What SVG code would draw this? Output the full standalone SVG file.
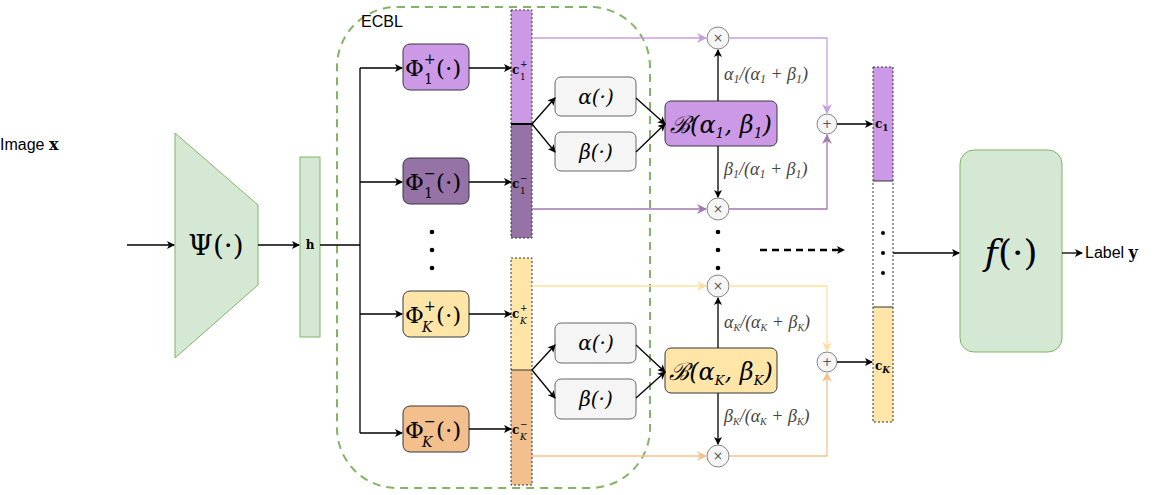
<svg xmlns="http://www.w3.org/2000/svg" width="1157" height="495" viewBox="0 0 1157 495">
<defs>
<marker id="ab" markerWidth="8" markerHeight="8" refX="7" refY="4" orient="auto" markerUnits="userSpaceOnUse"><path d="M0,0 L8,4 L0,8 L2,4 Z" fill="#000"/></marker>
<marker id="ap1" markerWidth="10" markerHeight="10" refX="9" refY="5" orient="auto" markerUnits="userSpaceOnUse"><path d="M0,0 L10,5 L0,10 L3,5 Z" fill="#c99ee0"/></marker>
<marker id="ap2" markerWidth="10" markerHeight="10" refX="9" refY="5" orient="auto" markerUnits="userSpaceOnUse"><path d="M0,0 L10,5 L0,10 L3,5 Z" fill="#a07ab0"/></marker>
<marker id="ay1" markerWidth="10" markerHeight="10" refX="9" refY="5" orient="auto" markerUnits="userSpaceOnUse"><path d="M0,0 L10,5 L0,10 L3,5 Z" fill="#fbe1a0"/></marker>
<marker id="ay2" markerWidth="10" markerHeight="10" refX="9" refY="5" orient="auto" markerUnits="userSpaceOnUse"><path d="M0,0 L10,5 L0,10 L3,5 Z" fill="#f3c38f"/></marker>
</defs>
<style>
.s{font-family:"Liberation Sans",Arial,sans-serif;font-size:16px;fill:#000}
.m{font-family:"DejaVu Serif","Liberation Serif",serif;fill:#000}
.g{font-family:"Liberation Serif",serif;font-style:italic;fill:#444;font-size:18px}
.box{stroke:#36393d;stroke-width:1}
.gr{fill:#f5f5f5;stroke:#666;stroke-width:1}
.k{stroke:#000;stroke-width:1.3;fill:none}
.c{fill:#f5f5f5;stroke:#666;stroke-width:0.8}
.x{font-family:"DejaVu Sans",sans-serif;font-size:12px;fill:#555;text-anchor:middle}
.ph{font-size:23px}
.sp{font-size:14px}
</style>
<rect width="1157" height="495" fill="#fff"/>
<g id="ecbl"><rect x="337" y="7" width="313" height="481" rx="60" fill="none" stroke="#82b366" stroke-width="2" stroke-dasharray="8,6"/><text class="s" x="361" y="27">ECBL</text></g>
<text class="s" x="0" y="150">Image <tspan class="m" font-weight="bold">x</tspan></text>
<g id="psi"><path d="M175,133 L258,205 L258,285 L175,358 Z" fill="#d5e8d4" stroke="#82b366"/><text class="m" x="216" y="255" font-size="28" text-anchor="middle">Ψ(·)</text></g>
<g id="h"><rect x="300" y="157" width="20" height="180" fill="#d5e8d4" stroke="#82b366"/><text class="m" x="310" y="249" font-size="12" font-weight="bold" text-anchor="middle">h</text></g>
<g id="phi1p"><rect class="box" x="403" y="44" width="66" height="46" rx="7" fill="#cc99e6"/><text class="m ph" x="405" y="76">Φ</text><text class="m sp" x="424" y="64">+</text><text class="m sp" x="424" y="84">1</text><text class="m ph" x="436" y="76">(·)</text></g>
<g id="phi1m"><rect class="box" x="403" y="158" width="66" height="46" rx="7" fill="#9673a6"/><text class="m ph" x="405" y="190">Φ</text><text class="m sp" x="424" y="178">−</text><text class="m sp" x="424" y="198">1</text><text class="m ph" x="436" y="190">(·)</text></g>
<g id="phiKp"><rect class="box" x="403" y="291" width="66" height="46" rx="7" fill="#ffe6a8"/><text class="m ph" x="405" y="323">Φ</text><text class="m sp" x="424" y="311">+</text><text class="m sp" x="422" y="332" font-style="italic">K</text><text class="m ph" x="436" y="323">(·)</text></g>
<g id="phiKm"><rect class="box" x="403" y="406" width="66" height="46" rx="7" fill="#f3bf8c"/><text class="m ph" x="405" y="438">Φ</text><text class="m sp" x="424" y="426">−</text><text class="m sp" x="422" y="447" font-style="italic">K</text><text class="m ph" x="436" y="438">(·)</text></g>
<g id="bar1"><rect x="511" y="10" width="21" height="114" fill="#cc99e6"/><rect x="511" y="124" width="21" height="114" fill="#9673a6"/><rect x="511" y="10" width="21" height="228" fill="none" stroke="#333" stroke-dasharray="2,2"/><line x1="511" y1="124" x2="532" y2="124" stroke="#000" stroke-width="2"/>
<text class="m" x="512" y="74" font-size="12" font-weight="bold">c</text><text class="m" x="520" y="67" font-size="9">+</text><text class="m" x="520" y="80" font-size="9">1</text>
<text class="m" x="512" y="188" font-size="12" font-weight="bold">c</text><text class="m" x="520" y="181" font-size="9">−</text><text class="m" x="520" y="194" font-size="9">1</text></g>
<g id="barK"><rect x="511" y="258" width="21" height="112" fill="#ffe6a8"/><rect x="511" y="370" width="21" height="115" fill="#f3bf8c"/><rect x="511" y="258" width="21" height="227" fill="none" stroke="#333" stroke-dasharray="2,2"/><line x1="511" y1="370" x2="532" y2="370" stroke="#333"/>
<text class="m" x="512" y="318" font-size="12" font-weight="bold">c</text><text class="m" x="520" y="311" font-size="9">+</text><text class="m" x="520" y="324" font-size="9" font-style="italic">K</text>
<text class="m" x="512" y="434" font-size="12" font-weight="bold">c</text><text class="m" x="520" y="427" font-size="9">−</text><text class="m" x="520" y="440" font-size="9" font-style="italic">K</text></g>
<g id="a1"><rect class="gr" x="555" y="77" width="81" height="39" rx="6"/><text class="m" x="596" y="104" font-size="20" fill="#333" text-anchor="middle" font-style="italic">α(·)</text></g>
<g id="b1"><rect class="gr" x="555" y="132" width="81" height="39" rx="6"/><text class="m" x="596" y="159" font-size="20" fill="#333" text-anchor="middle" font-style="italic">β(·)</text></g>
<g id="aK"><rect class="gr" x="555" y="323" width="81" height="40" rx="6"/><text class="m" x="596" y="350" font-size="20" fill="#333" text-anchor="middle" font-style="italic">α(·)</text></g>
<g id="bK"><rect class="gr" x="555" y="379" width="81" height="40" rx="6"/><text class="m" x="596" y="406" font-size="20" fill="#333" text-anchor="middle" font-style="italic">β(·)</text></g>
<g id="B1"><rect class="box" x="665" y="101" width="112" height="45" rx="6" fill="#cc99e6"/><text class="m" x="721" y="133" font-size="24" text-anchor="middle" font-style="italic">ℬ(α<tspan font-size="14" dy="5">1</tspan><tspan dy="-5">, β</tspan><tspan font-size="14" dy="5">1</tspan><tspan dy="-5">)</tspan></text></g>
<g id="BK"><rect class="box" x="665" y="348" width="112" height="45" rx="6" fill="#ffe6a8"/><text class="m" x="721" y="380" font-size="24" text-anchor="middle" font-style="italic">ℬ(α<tspan font-size="13" dy="5">K</tspan><tspan dy="-5">, β</tspan><tspan font-size="13" dy="5">K</tspan><tspan dy="-5">)</tspan></text></g>
<g id="m1"><circle class="c" cx="718" cy="38" r="11"/><text class="x" x="718" y="42">×</text></g>
<g id="m2"><circle class="c" cx="718" cy="209" r="11"/><text class="x" x="718" y="213">×</text></g>
<g id="m3"><circle class="c" cx="718" cy="286" r="11"/><text class="x" x="718" y="290">×</text></g>
<g id="m4"><circle class="c" cx="718" cy="456" r="11"/><text class="x" x="718" y="460">×</text></g>
<g id="p1"><circle class="c" cx="827" cy="124" r="10"/><text class="x" x="827" y="128" font-size="10">+</text></g>
<g id="pK"><circle class="c" cx="827" cy="362" r="10"/><text class="x" x="827" y="366" font-size="10">+</text></g>
<g id="cbar"><rect x="873" y="67" width="20" height="114" fill="#cc99e6"/><rect x="873" y="307" width="20" height="115" fill="#ffe6a8"/><rect x="873" y="67" width="20" height="355" fill="none" stroke="#333" stroke-dasharray="2,2"/><line x1="873" y1="181" x2="893" y2="181" stroke="#333"/><line x1="873" y1="307" x2="893" y2="307" stroke="#333"/>
<text class="m" x="875" y="128" font-size="12" font-weight="bold">c<tspan font-size="9" dy="3">1</tspan></text>
<text class="m" x="875" y="370" font-size="12" font-weight="bold">c<tspan font-size="9" font-style="italic" dy="3">K</tspan></text>
<circle cx="883" cy="233" r="2"/><circle cx="883" cy="253" r="2"/><circle cx="883" cy="273" r="2"/></g>
<g id="f"><rect x="960" y="150" width="102" height="202" rx="14" fill="#d5e8d4" stroke="#82b366"/><text class="m" x="1011" y="265" font-size="36" font-style="italic" text-anchor="middle">f<tspan font-style="normal">(·)</tspan></text></g>
<text class="s" x="1085" y="258">Label <tspan class="m" font-weight="bold">y</tspan></text>
<g id="dots"><circle cx="432" cy="232" r="2.3"/><circle cx="432" cy="250" r="2.3"/><circle cx="432" cy="268" r="2.3"/><circle cx="718" cy="232" r="2.3"/><circle cx="718" cy="250" r="2.3"/><circle cx="718" cy="268" r="2.3"/></g>
<g id="labels"><text class="g" x="724" y="80">α<tspan font-size="12" dy="3">1</tspan><tspan dy="-3">/(α</tspan><tspan font-size="12" dy="3">1</tspan><tspan dy="-3"> + β</tspan><tspan font-size="12" dy="3">1</tspan><tspan dy="-3">)</tspan></text>
<text class="g" x="724" y="175">β<tspan font-size="12" dy="3">1</tspan><tspan dy="-3">/(α</tspan><tspan font-size="12" dy="3">1</tspan><tspan dy="-3"> + β</tspan><tspan font-size="12" dy="3">1</tspan><tspan dy="-3">)</tspan></text>
<text class="g" x="724" y="328">α<tspan font-size="10" dy="3">K</tspan><tspan dy="-3">/(α</tspan><tspan font-size="10" dy="3">K</tspan><tspan dy="-3"> + β</tspan><tspan font-size="10" dy="3">K</tspan><tspan dy="-3">)</tspan></text>
<text class="g" x="724" y="422">β<tspan font-size="10" dy="3">K</tspan><tspan dy="-3">/(α</tspan><tspan font-size="10" dy="3">K</tspan><tspan dy="-3"> + β</tspan><tspan font-size="10" dy="3">K</tspan><tspan dy="-3">)</tspan></text></g>
<g id="connectors">
<line class="k" x1="127" y1="245" x2="174" y2="245" marker-end="url(#ab)"/>
<line class="k" x1="258" y1="245" x2="299" y2="245" marker-end="url(#ab)"/>
<path class="k" d="M320,245 H360 M360,68 V433"/>
<line class="k" x1="360" y1="68" x2="402" y2="68" marker-end="url(#ab)"/>
<line class="k" x1="360" y1="182" x2="402" y2="182" marker-end="url(#ab)"/>
<line class="k" x1="360" y1="314" x2="402" y2="314" marker-end="url(#ab)"/>
<line class="k" x1="360" y1="433" x2="402" y2="433" marker-end="url(#ab)"/>
<line class="k" x1="469" y1="68" x2="511" y2="68" marker-end="url(#ab)"/>
<line class="k" x1="469" y1="182" x2="511" y2="182" marker-end="url(#ab)"/>
<line class="k" x1="469" y1="314" x2="511" y2="314" marker-end="url(#ab)"/>
<line class="k" x1="469" y1="429" x2="511" y2="429" marker-end="url(#ab)"/>
<line class="k" x1="532" y1="124" x2="555" y2="98" marker-end="url(#ab)" stroke-width="1"/>
<line class="k" x1="532" y1="124" x2="555" y2="152" marker-end="url(#ab)" stroke-width="1"/>
<line class="k" x1="532" y1="370" x2="555" y2="345" marker-end="url(#ab)" stroke-width="1"/>
<line class="k" x1="532" y1="370" x2="555" y2="398" marker-end="url(#ab)" stroke-width="1"/>
<line class="k" x1="636" y1="98" x2="665" y2="124" marker-end="url(#ab)" stroke-width="1"/>
<line class="k" x1="636" y1="152" x2="665" y2="124" marker-end="url(#ab)" stroke-width="1"/>
<line class="k" x1="636" y1="345" x2="665" y2="372" marker-end="url(#ab)" stroke-width="1"/>
<line class="k" x1="636" y1="398" x2="665" y2="372" marker-end="url(#ab)" stroke-width="1"/>
<line class="k" x1="718" y1="101" x2="718" y2="50" marker-end="url(#ab)"/>
<line class="k" x1="718" y1="146" x2="718" y2="197" marker-end="url(#ab)"/>
<line class="k" x1="718" y1="348" x2="718" y2="298" marker-end="url(#ab)"/>
<line class="k" x1="718" y1="393" x2="718" y2="444" marker-end="url(#ab)"/>
<line x1="532" y1="38" x2="706" y2="38" stroke="#c99ee0" stroke-width="1.3" marker-end="url(#ap1)"/>
<path d="M729,38 H827 V113" fill="none" stroke="#c99ee0" stroke-width="1.3" marker-end="url(#ap1)"/>
<line x1="532" y1="209" x2="706" y2="209" stroke="#a07ab0" stroke-width="1.3" marker-end="url(#ap2)"/>
<path d="M729,209 H827 V135" fill="none" stroke="#a07ab0" stroke-width="1.3" marker-end="url(#ap2)"/>
<line x1="532" y1="286" x2="706" y2="286" stroke="#fbe1a0" stroke-width="1.3" marker-end="url(#ay1)"/>
<path d="M729,286 H827 V351" fill="none" stroke="#fbe1a0" stroke-width="1.3" marker-end="url(#ay1)"/>
<line x1="532" y1="456" x2="706" y2="456" stroke="#f3c38f" stroke-width="1.3" marker-end="url(#ay2)"/>
<path d="M729,456 H827 V373" fill="none" stroke="#f3c38f" stroke-width="1.3" marker-end="url(#ay2)"/>
<line class="k" x1="837" y1="124" x2="872" y2="124" marker-end="url(#ab)"/>
<line class="k" x1="837" y1="362" x2="872" y2="362" marker-end="url(#ab)"/>
<line x1="760" y1="250" x2="844" y2="250" stroke="#000" stroke-width="2.5" stroke-dasharray="7,5" marker-end="url(#ab)"/>
<line class="k" x1="893" y1="253" x2="959" y2="253" marker-end="url(#ab)"/>
<line class="k" x1="1062" y1="253" x2="1082" y2="253" marker-end="url(#ab)"/>
</g>
</svg>
